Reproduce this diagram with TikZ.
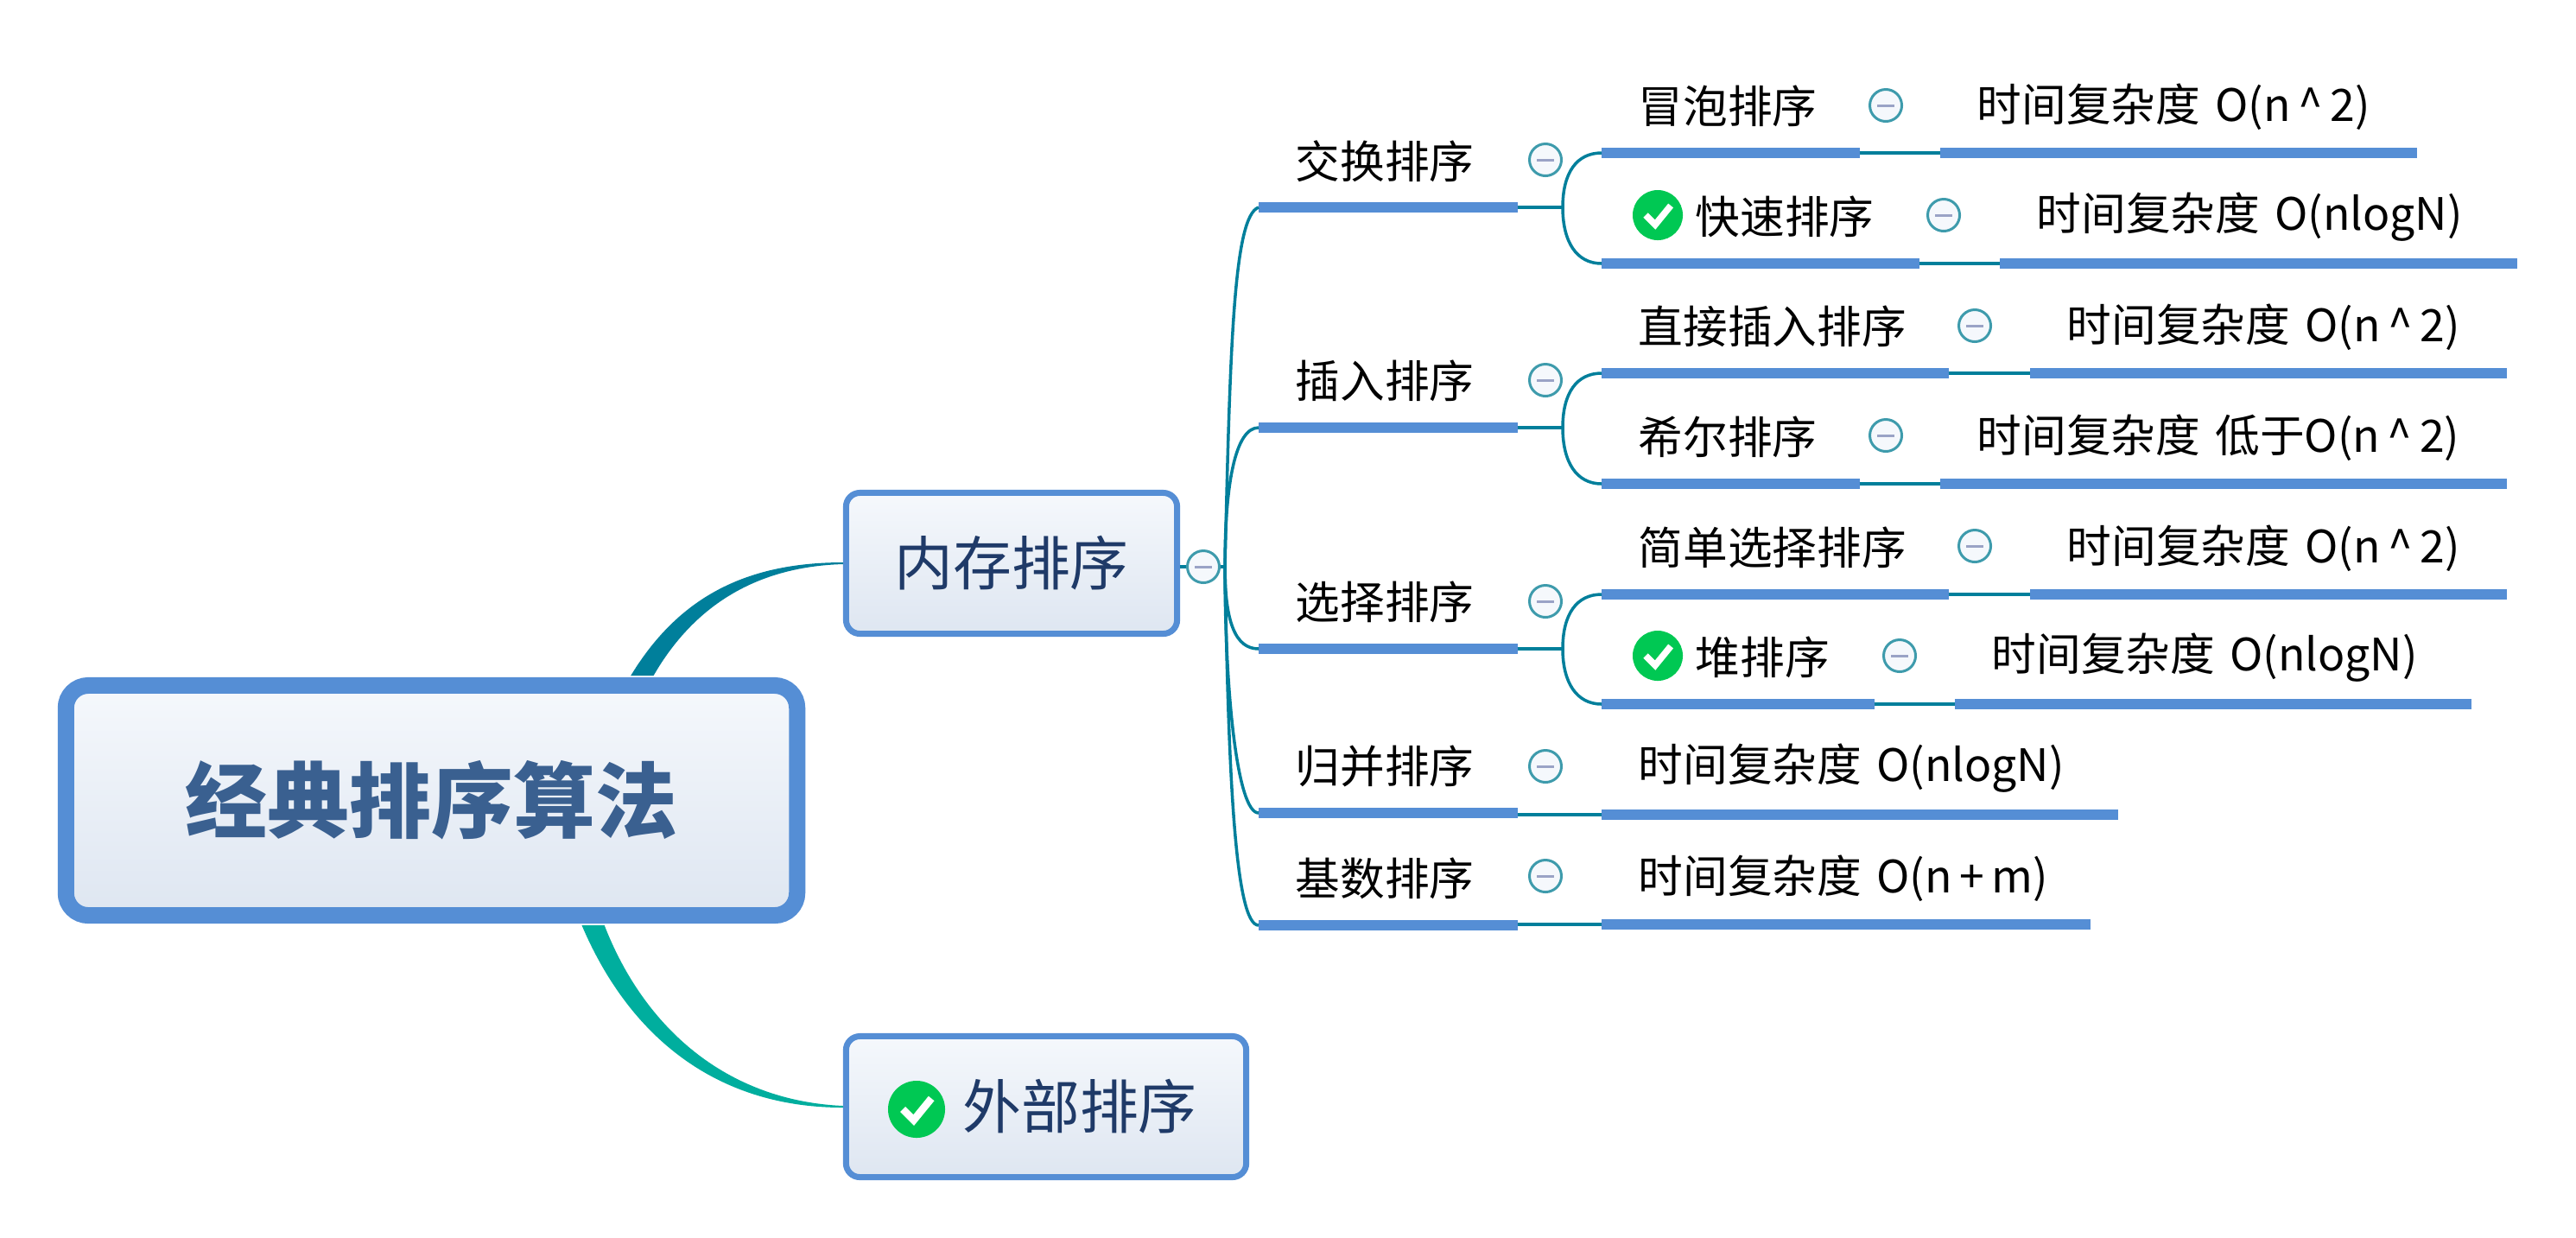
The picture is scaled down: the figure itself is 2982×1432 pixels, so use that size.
\documentclass[tikz,border=0pt]{standalone}
\usepackage{fontspec}
\setmainfont{Noto Sans CJK SC}
\definecolor{boxblue}{HTML}{558ED5}
\definecolor{boxtop}{HTML}{F5F8FC}
\definecolor{boxbottom}{HTML}{DEE6F1}
\definecolor{rootink}{HTML}{3A6090}
\definecolor{boxink}{HTML}{1F3A68}
\definecolor{linkteal}{HTML}{007F9B}
\definecolor{linkgreen}{HTML}{00AE9E}
\definecolor{btnteal}{HTML}{3E9BAC}
\definecolor{btnminus}{HTML}{9AA3C6}
\definecolor{tickgreen}{HTML}{00C853}
\tikzset{
rootbox/.style={draw=boxblue, line width=.19cm, rounded corners=.26cm, top color=boxtop, bottom color=boxbottom, minimum width=8.46cm, minimum height=2.66cm, text=rootink, font=\fontsize{27}{32}\selectfont\bfseries},
mainbox/.style={draw=boxblue, line width=.07cm, rounded corners=.16cm, top color=boxtop, bottom color=boxbottom, minimum height=1.63cm, text=boxink, font=\fontsize{19.3}{24}\selectfont},
topic/.style={anchor=south west, inner xsep=.42cm, inner ysep=0pt, minimum height=1.06cm, text width=#1, align=left, font=\fontsize{14.7}{18}\selectfont},
under/.style={draw=boxblue, line width=.12cm},
link/.style={draw=linkteal, line width=.035cm},
collapse/.style={circle, draw=btnteal, line width=.03cm, fill=boxtop, minimum size=.37cm, inner sep=0pt, path picture={\draw[btnminus, line width=.03cm] ([xshift=-.1cm]path picture bounding box.center) -- ([xshift=.1cm]path picture bounding box.center);}},
tickmark/.style={circle, fill=tickgreen, minimum size=#1, inner sep=0pt, path picture={\draw[white, line width=.13*#1] ([shift={(-.24*#1,0cm)}]path picture bounding box.center) -- ([shift={(-.05*#1,-.19*#1)}]path picture bounding box.center) -- ([shift={(.26*#1,.19*#1)}]path picture bounding box.center);}}
}
\begin{document}
\begin{tikzpicture}[x=.01cm, y=-.01cm]
\useasboundingbox (0,0) rectangle (2982,1432);
\node[rootbox] (root) at (499.5,926.5){经典排序算法};
\node[mainbox, minimum width=3.83cm] (mem) at (1171,652){内存排序};
\node[mainbox, minimum width=4.63cm] (ext) at (1211,1281){\hspace*{.78cm}外部排序};
\node[tickmark=.66cm] (exttick) at (1061,1284){};
\coordinate (rootmema) at (732,781);
\coordinate (rootmemb) at (756,781);
\coordinate (rootexta) at (675,1072);
\coordinate (rootextb) at (699,1072);
\path[fill=linkteal, draw=linkteal, line width=.02cm] (rootmema) .. controls (785,695) and (860,652) .. (mem.west) .. controls (870,655) and (800,705) .. (rootmemb) -- cycle;
\path[fill=linkgreen, draw=linkgreen, line width=.02cm] (rootexta) .. controls (730,1200) and (830,1281) .. (ext.west) .. controls (840,1275) and (745,1190) .. (rootextb) -- cycle;
\node[collapse] (membtn) at (1393,656){};
\coordinate (memfork) at (1418,656);
\draw[link](membtn.west -| mem.east) -- (membtn.west);
\draw[link](membtn.east) -- (memfork);
\node[topic=2.14cm] (swap) at (1457,240){交换排序};
\node[topic=2.14cm] (insert) at (1457,495){插入排序};
\node[topic=2.14cm] (select) at (1457,751){选择排序};
\node[topic=2.14cm] (merge) at (1457,941){归并排序};
\node[topic=2.14cm] (radix) at (1457,1071){基数排序};
\draw[under](swap.south west) -- (swap.south east);
\draw[under](insert.south west) -- (insert.south east);
\draw[under](select.south west) -- (select.south east);
\draw[under](merge.south west) -- (merge.south east);
\draw[under](radix.south west) -- (radix.south east);
\draw[link](memfork) .. controls (1424,400) and (1428,250) .. (swap.south west);
\draw[link](memfork) .. controls (1418,560) and (1430,495) .. (insert.south west);
\draw[link](memfork) .. controls (1418,720) and (1430,751) .. (select.south west);
\draw[link](memfork) .. controls (1418,800) and (1432,941) .. (merge.south west);
\draw[link](memfork) .. controls (1422,900) and (1430,1071) .. (radix.south west);
\node[collapse] (swapbtn) at (1789,185){};
\node[collapse] (insertbtn) at (1789,440){};
\node[collapse] (selectbtn) at (1789,696){};
\node[collapse] (mergebtn) at (1789,887){};
\node[collapse] (radixbtn) at (1789,1014){};
\coordinate (swapfork) at (1809,240);
\coordinate (insertfork) at (1809,495);
\coordinate (selectfork) at (1809,751);
\draw[link](swap.south east) -- (swapfork);
\draw[link](insert.south east) -- (insertfork);
\draw[link](select.south east) -- (selectfork);
\node[topic=2.13cm] (bubble) at (1854,177){冒泡排序};
\node[topic=2.82cm] (quick) at (1854,305){\hspace*{.66cm}快速排序};
\node[topic=3.16cm] (direct) at (1854,432){直接插入排序};
\node[topic=2.13cm] (shell) at (1854,560){希尔排序};
\node[topic=3.16cm] (simple) at (1854,688){简单选择排序};
\node[topic=2.30cm] (heap) at (1854,815){\hspace*{.66cm}堆排序};
\node[tickmark=.58cm] (quicktick) at (1919,249){};
\node[tickmark=.58cm] (heaptick) at (1919,759){};
\draw[under](bubble.south west) -- (bubble.south east);
\draw[under](quick.south west) -- (quick.south east);
\draw[under](direct.south west) -- (direct.south east);
\draw[under](shell.south west) -- (shell.south east);
\draw[under](simple.south west) -- (simple.south east);
\draw[under](heap.south west) -- (heap.south east);
\draw[link](swapfork) .. controls (1809,200) and (1825,177) .. (bubble.south west);
\draw[link](swapfork) .. controls (1809,280) and (1825,305) .. (quick.south west);
\draw[link](insertfork) .. controls (1809,455) and (1825,432) .. (direct.south west);
\draw[link](insertfork) .. controls (1809,535) and (1825,560) .. (shell.south west);
\draw[link](selectfork) .. controls (1809,711) and (1825,688) .. (simple.south west);
\draw[link](selectfork) .. controls (1809,790) and (1825,815) .. (heap.south west);
\node[collapse] (bubblebtn) at (2183,122){};
\node[collapse] (quickbtn) at (2250,249){};
\node[collapse] (directbtn) at (2286,377){};
\node[collapse] (shellbtn) at (2183,504){};
\node[collapse] (simplebtn) at (2286,632){};
\node[collapse] (heapbtn) at (2199,759){};
\node[topic=4.66cm] (bubbletime) at (2246,177){时间复杂度 O(n\,\^{}\,2)};
\node[topic=5.13cm] (quicktime) at (2315,305){时间复杂度 O(nlogN)};
\node[topic=4.66cm] (directtime) at (2350,432){时间复杂度 O(n\,\^{}\,2)};
\node[topic=5.70cm] (shelltime) at (2246,560){时间复杂度 低于O(n\,\^{}\,2)};
\node[topic=4.66cm] (simpletime) at (2350,688){时间复杂度 O(n\,\^{}\,2)};
\node[topic=5.12cm] (heaptime) at (2263,815){时间复杂度 O(nlogN)};
\node[topic=5.12cm] (mergetime) at (1854,943){时间复杂度 O(nlogN)};
\node[topic=4.80cm] (radixtime) at (1854,1070){时间复杂度 O(n\,+\,m)};
\draw[under](bubbletime.south west) -- (bubbletime.south east);
\draw[under](quicktime.south west) -- (quicktime.south east);
\draw[under](directtime.south west) -- (directtime.south east);
\draw[under](shelltime.south west) -- (shelltime.south east);
\draw[under](simpletime.south west) -- (simpletime.south east);
\draw[under](heaptime.south west) -- (heaptime.south east);
\draw[under](mergetime.south west) -- (mergetime.south east);
\draw[under](radixtime.south west) -- (radixtime.south east);
\draw[link](bubble.south east) -- (bubbletime.south west);
\draw[link](quick.south east) -- (quicktime.south west);
\draw[link](direct.south east) -- (directtime.south west);
\draw[link](shell.south east) -- (shelltime.south west);
\draw[link](simple.south east) -- (simpletime.south west);
\draw[link](heap.south east) -- (heaptime.south west);
\draw[link](merge.south east |- mergetime.south west) -- (mergetime.south west);
\draw[link](radix.south east |- radixtime.south west) -- (radixtime.south west);
\end{tikzpicture}
\end{document}
